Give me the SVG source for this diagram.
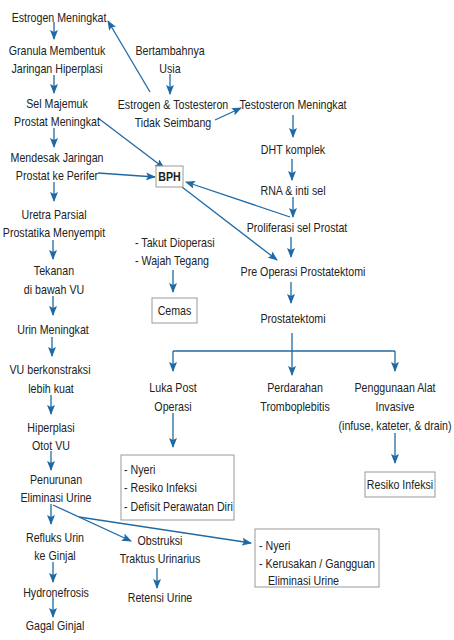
<svg xmlns="http://www.w3.org/2000/svg" width="454" height="640" viewBox="0 0 454 640">
<defs>
<marker id="ah" markerUnits="userSpaceOnUse" markerWidth="10" markerHeight="8" refX="9" refY="4" orient="auto">
<path d="M0,0 L10,4 L0,8 L2,4 Z" fill="#1f6aa5"/>
</marker>
</defs>
<style>
text{font-family:"Liberation Sans",Arial,sans-serif;font-size:13px;fill:#222;text-anchor:middle}
.l{text-anchor:start}
.b{font-weight:bold}
.box{fill:#fff;stroke:#999;stroke-width:1}
.c line,.c path{stroke:#1f6aa5;stroke-width:1.3;fill:none}
.a{marker-end:url(#ah)}
</style>
<rect width="454" height="640" fill="#fff"/>
<g class="c">
<line class="a" x1="54" y1="22" x2="54" y2="39"/>
<line class="a" x1="54" y1="75" x2="54" y2="93"/>
<line class="a" x1="54" y1="128" x2="54" y2="147"/>
<line class="a" x1="54" y1="182" x2="54" y2="201"/>
<line class="a" x1="53" y1="240" x2="53" y2="259"/>
<line class="a" x1="53" y1="296" x2="53" y2="315"/>
<line class="a" x1="52" y1="337" x2="52" y2="356"/>
<line class="a" x1="51" y1="395" x2="51" y2="414"/>
<line class="a" x1="51" y1="451" x2="51" y2="470"/>
<line class="a" x1="51" y1="504" x2="51" y2="524"/>
<line class="a" x1="53" y1="562" x2="53" y2="582"/>
<line class="a" x1="53" y1="597" x2="53" y2="617"/>
<line class="a" x1="53" y1="505" x2="131" y2="541"/>
<line class="a" x1="79" y1="517" x2="251" y2="543"/>
<line class="a" x1="157" y1="568" x2="157" y2="588"/>
<line class="a" x1="150" y1="92" x2="108" y2="21"/>
<line class="a" x1="170" y1="74" x2="170" y2="94"/>
<line class="a" x1="215" y1="120" x2="241" y2="108"/>
<line class="a" x1="293" y1="115" x2="293" y2="137"/>
<line class="a" x1="292" y1="159" x2="292" y2="180"/>
<line class="a" x1="293" y1="197" x2="293" y2="217"/>
<line class="a" x1="291" y1="237" x2="291" y2="257"/>
<line class="a" x1="291" y1="282" x2="291" y2="303"/>
<line class="a" x1="98" y1="118" x2="164" y2="168"/>
<line class="a" x1="98" y1="173" x2="155" y2="177"/>
<line class="a" x1="290" y1="217" x2="186" y2="182"/>
<line class="a" x1="182" y1="187" x2="277" y2="260"/>
<line class="a" x1="173" y1="270" x2="173" y2="292"/>
<line class="a" x1="292" y1="333" x2="292" y2="375"/>
<path d="M173,351 H395"/>
<line class="a" x1="173" y1="351" x2="173" y2="371"/>
<line class="a" x1="395" y1="351" x2="395" y2="371"/>
<line class="a" x1="173" y1="413" x2="173" y2="447"/>
<line class="a" x1="395" y1="433" x2="395" y2="463"/>
</g>
<g id="n-estrogen"><text transform="translate(59,22) scale(.82,1)">Estrogen Meningkat</text></g>
<g id="n-granula"><text transform="translate(57,55) scale(.82,1)">Granula Membentuk</text><text transform="translate(57,73) scale(.82,1)">Jaringan Hiperplasi</text></g>
<g id="n-sel"><text transform="translate(57,108) scale(.82,1)">Sel Majemuk</text><text transform="translate(57,126) scale(.82,1)">Prostat Meningkat</text></g>
<g id="n-mendesak"><text transform="translate(57,162) scale(.82,1)">Mendesak Jaringan</text><text transform="translate(57,180) scale(.82,1)">Prostat ke Perifer</text></g>
<g id="n-uretra"><text transform="translate(54,219) scale(.82,1)">Uretra Parsial</text><text transform="translate(54,237) scale(.82,1)">Prostatika Menyempit</text></g>
<g id="n-tekanan"><text transform="translate(54,275) scale(.82,1)">Tekanan</text><text transform="translate(54,294) scale(.82,1)">di bawah VU</text></g>
<g id="n-urin"><text transform="translate(53,334) scale(.82,1)">Urin Meningkat</text></g>
<g id="n-vu"><text transform="translate(50,374) scale(.82,1)">VU berkonstraksi</text><text transform="translate(51,393) scale(.82,1)">lebih kuat</text></g>
<g id="n-hiperplasi"><text transform="translate(51,432) scale(.82,1)">Hiperplasi</text><text transform="translate(51,450) scale(.82,1)">Otot VU</text></g>
<g id="n-penurunan"><text transform="translate(56,484) scale(.82,1)">Penurunan</text><text transform="translate(56,502) scale(.82,1)">Eliminasi Urine</text></g>
<g id="n-refluks"><text transform="translate(55,542) scale(.82,1)">Refluks Urin</text><text transform="translate(55,560) scale(.82,1)">ke Ginjal</text></g>
<g id="n-hydro"><text transform="translate(56,597) scale(.82,1)">Hydronefrosis</text></g>
<g id="n-gagal"><text transform="translate(55,630) scale(.82,1)">Gagal Ginjal</text></g>
<g id="n-obstruksi"><text transform="translate(160,545) scale(.82,1)">Obstruksi</text><text transform="translate(160,563) scale(.82,1)">Traktus Urinarius</text></g>
<g id="n-retensi"><text transform="translate(160,602) scale(.82,1)">Retensi Urine</text></g>
<g id="n-nyeri2"><rect class="box" x="255" y="529" width="124" height="58"/><text class="l" transform="translate(259,550) scale(.82,1)">- Nyeri</text><text class="l" transform="translate(259,568) scale(.82,1)">- Kerusakan / Gangguan</text><text class="l" transform="translate(268,585) scale(.82,1)">Eliminasi Urine</text></g>
<g id="n-usia"><text transform="translate(170,55) scale(.82,1)">Bertambahnya</text><text transform="translate(170,73) scale(.82,1)">Usia</text></g>
<g id="n-seimbang"><text transform="translate(173,109) scale(.82,1)">Estrogen &amp; Tostesteron</text><text transform="translate(173,127) scale(.82,1)">Tidak Seimbang</text></g>
<g id="n-testo"><text transform="translate(293,109) scale(.82,1)">Testosteron Meningkat</text></g>
<g id="n-dht"><text transform="translate(293,154) scale(.82,1)">DHT komplek</text></g>
<g id="n-rna"><text transform="translate(293,195) scale(.82,1)">RNA &amp; inti sel</text></g>
<g id="n-prolif"><text transform="translate(297,232) scale(.82,1)">Proliferasi sel Prostat</text></g>
<g id="n-preop"><text transform="translate(303,276) scale(.82,1)">Pre Operasi Prostatektomi</text></g>
<g id="n-prostat"><text transform="translate(293,323) scale(.82,1)">Prostatektomi</text></g>
<g id="n-bph"><rect class="box" x="156" y="166" width="27" height="21"/><text class="b" transform="translate(169.5,181) scale(.82,1)">BPH</text></g>
<g id="n-takut"><text class="l" transform="translate(135,247) scale(.82,1)">- Takut Dioperasi</text><text class="l" transform="translate(135,265) scale(.82,1)">- Wajah Tegang</text></g>
<g id="n-cemas"><rect class="box" x="152" y="298" width="45" height="25"/><text transform="translate(174.5,315) scale(.82,1)">Cemas</text></g>
<g id="n-luka"><text transform="translate(173,392) scale(.82,1)">Luka Post</text><text transform="translate(173,411) scale(.82,1)">Operasi</text></g>
<g id="n-perdarahan"><text transform="translate(295,392) scale(.82,1)">Perdarahan</text><text transform="translate(295,411) scale(.82,1)">Tromboplebitis</text></g>
<g id="n-alat"><text transform="translate(395,392) scale(.82,1)">Penggunaan Alat</text><text transform="translate(395,411) scale(.82,1)">Invasive</text><text transform="translate(395,430) scale(.82,1)">(infuse, kateter, &amp; drain)</text></g>
<g id="n-box1"><rect class="box" x="121" y="455" width="113" height="65"/><text class="l" transform="translate(124,474) scale(.82,1)">- Nyeri</text><text class="l" transform="translate(124,492) scale(.82,1)">- Resiko Infeksi</text><text class="l" transform="translate(124,511) scale(.82,1)">- Defisit Perawatan Diri</text></g>
<g id="n-resiko"><rect class="box" x="365" y="472" width="70" height="25"/><text transform="translate(400,489) scale(.82,1)">Resiko Infeksi</text></g>
</svg>
